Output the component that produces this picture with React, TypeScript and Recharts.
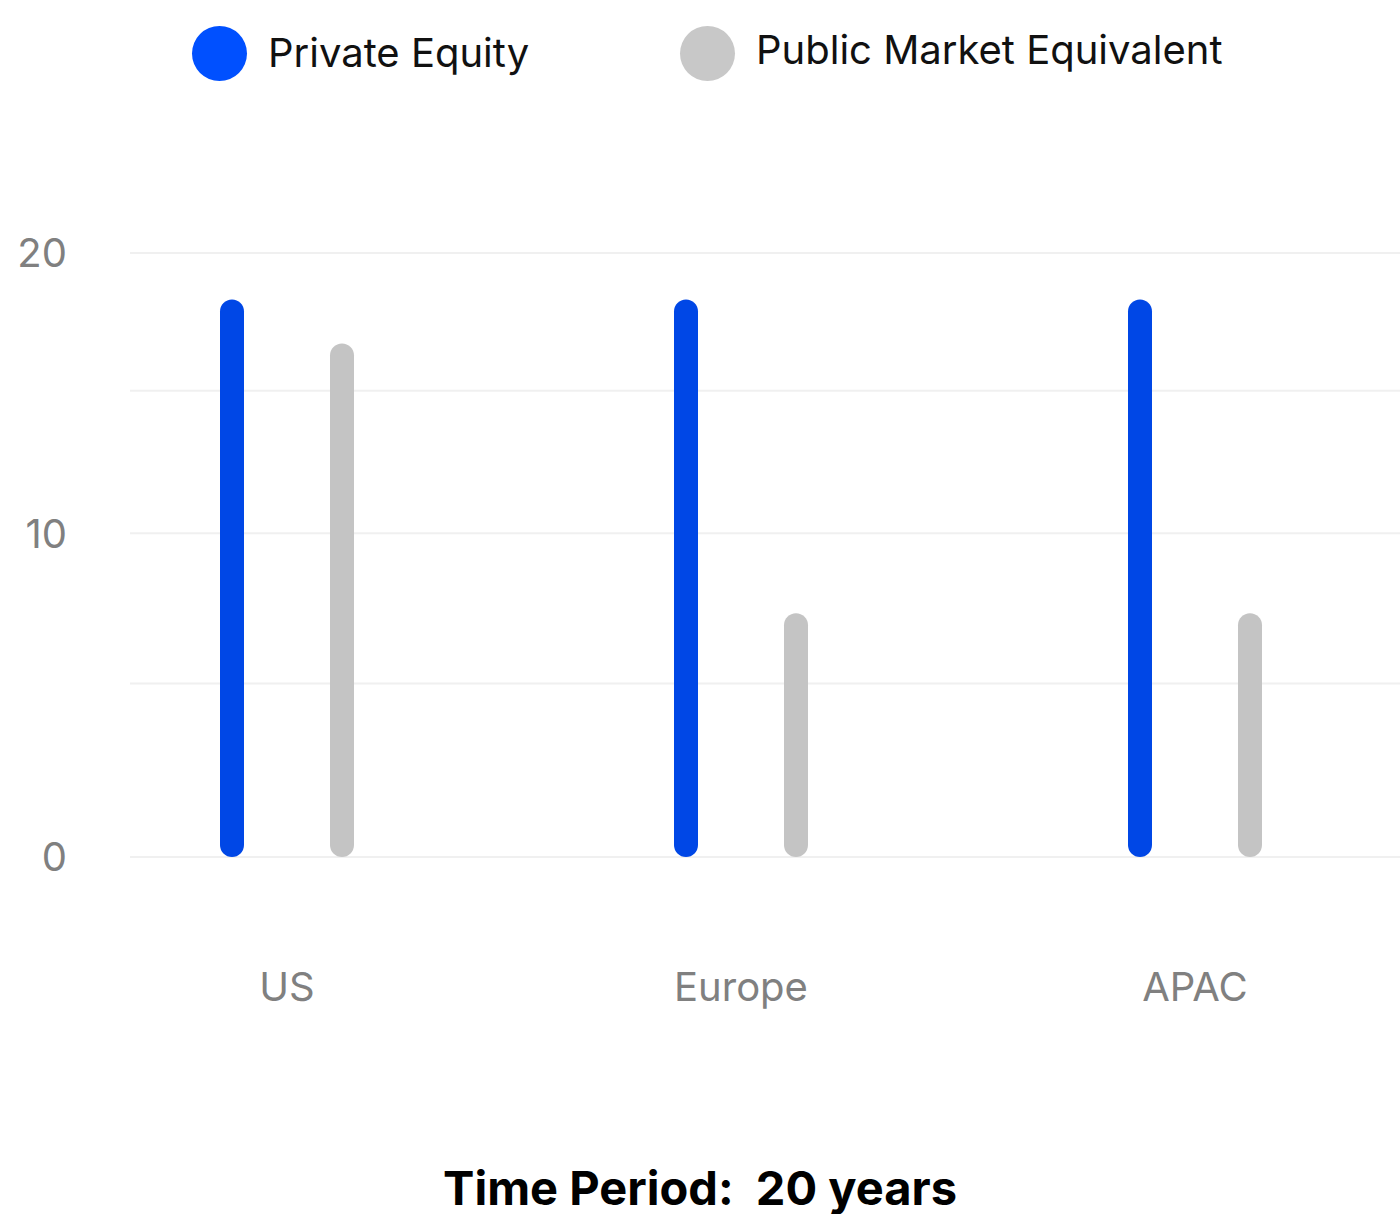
import { BarChart, Bar, XAxis, YAxis, CartesianGrid, Legend, Label } from "recharts";

const regions = ["US", "Europe", "APAC"];
const privateEquity = [18.3, 18.3, 18.3];
const publicMarket = [16.7, 7.3, 7.3];
const yTicks = [0, 5, 10, 15, 20];
const labeledTicks = [0, 10, 20];

const data = regions.map((r, i) => ({ region: r, pe: privateEquity[i], pme: publicMarket[i] }));

// the value axis in the picture is slightly compressed towards the top, roughly a power scale
function powScale(exponent: number, d: number[] = [0, 1], r: number[] = [0, 1]): any {
  let dom = d.slice();
  let rng = r.slice();
  const s: any = (v: number) => {
    const t = (Number(v) - dom[0]) / (dom[1] - dom[0]);
    const p = t <= 0 ? 0 : Math.pow(t, exponent);
    return rng[0] + (rng[1] - rng[0]) * p;
  };
  s.domain = (x?: any[]) => {
    if (x === undefined) return dom.slice();
    dom = x.map(Number);
    return s;
  };
  s.range = (x?: any[]) => {
    if (x === undefined) return rng.slice();
    rng = x.map(Number);
    return s;
  };
  s.invert = (y: number) => {
    const t = (y - rng[0]) / (rng[1] - rng[0]);
    return dom[0] + (dom[1] - dom[0]) * Math.pow(Math.max(t, 0), 1 / exponent);
  };
  s.ticks = () => yTicks.slice();
  s.tickFormat = () => (v: number) => String(v);
  s.nice = () => s;
  s.clamp = () => s;
  s.copy = () => powScale(exponent, dom, rng);
  return s;
}

const yScale = powScale(0.9);

function LegendContent() {
  return (
    <div style={{ position: "relative", width: 1400, height: 110, color: "#111", fontSize: 40, lineHeight: "40px" }}>
      <span style={{ position: "absolute", left: 192, top: 26, width: 55, height: 55, borderRadius: "50%", background: "#0050ff" }} />
      <span style={{ position: "absolute", left: 268, top: 33 }}>Private Equity</span>
      <span style={{ position: "absolute", left: 680, top: 26, width: 55, height: 55, borderRadius: "50%", background: "#c8c8c8" }} />
      <span style={{ position: "absolute", left: 756, top: 30 }}>Public Market Equivalent</span>
    </div>
  );
}

export default function App() {
  return (
    <div style={{ position: "absolute", left: 0, top: 0, width: 1400, height: 1214, fontFamily: "Inter", background: "#fff" }}>
      <BarChart width={1400} height={1214} data={data} margin={{ top: 143, right: 0, bottom: 0, left: 0 }} barGap={86}>
        <CartesianGrid vertical={false} stroke="#f0f0f0" strokeWidth={2} />
        <Legend verticalAlign="top" content={<LegendContent />} wrapperStyle={{ top: 0, left: 0, width: 1400, height: 110 }} />
        <XAxis
          dataKey="region"
          axisLine={false}
          tickLine={false}
          height={357}
          padding={{ left: -70, right: -22 }}
          tickMargin={110}
          tick={{ fill: "#808080", fontSize: 40 }}
        >
          <Label
            value={"Time Period:\u00a0 20 years"}
            position="insideBottom"
            offset={9}
            dx={-65}
            style={{ fill: "#000", fontSize: 47, fontWeight: 700 }}
          />
        </XAxis>
        <YAxis
          width={130}
          domain={[0, 20]}
          scale={yScale}
          ticks={yTicks}
          interval={0}
          axisLine={false}
          tickLine={false}
          tickMargin={57}
          tickFormatter={(v: number) => (labeledTicks.includes(v) ? String(v) : "")}
          tick={{ fill: "#808080", fontSize: 40 }}
        />
        <Bar dataKey="pe" name="Private Equity" fill="#0047e6" barSize={24} radius={[12, 12, 12, 12]} isAnimationActive={false} />
        <Bar dataKey="pme" name="Public Market Equivalent" fill="#c4c4c4" barSize={24} radius={[12, 12, 12, 12]} isAnimationActive={false} />
      </BarChart>
    </div>
  );
}
